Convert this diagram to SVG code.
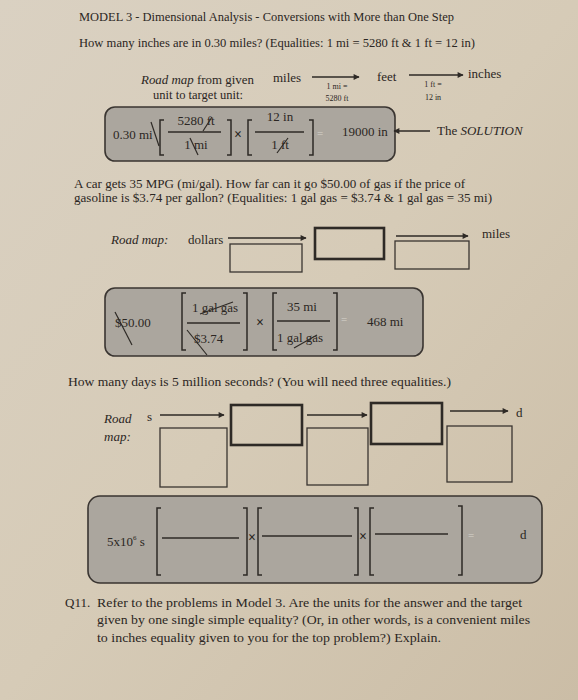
<svg xmlns="http://www.w3.org/2000/svg" width="578" height="700" viewBox="0 0 578 700">
<defs>
<linearGradient id="paper" x1="0" y1="0" x2="1" y2="1">
<stop offset="0" stop-color="#dad1c2"/>
<stop offset="0.5" stop-color="#d6cbb7"/>
<stop offset="1" stop-color="#cbbda6"/>
</linearGradient>
<marker id="ah" viewBox="0 0 10 10" refX="9" refY="5" markerWidth="8" markerHeight="6" markerUnits="userSpaceOnUse" orient="auto">
<path d="M0,0 L10,5 L0,10 z" fill="#2e2a26"/>
</marker>
<style>
text{font-family:"Liberation Serif","Times New Roman",serif;fill:#2b2623;}
.t12{font-size:12px;}
.t13{font-size:13px;}
.sm{font-size:8px;}
.it{font-style:italic;}
.sol{fill:#aba69e;stroke:#3a3531;stroke-width:1.6;}
.br{fill:none;stroke:#2e2a26;stroke-width:1.5;}
.fl{stroke:#2e2a26;stroke-width:1.3;}
.ar{stroke:#2e2a26;stroke-width:1.3;marker-end:url(#ah);}
.thin{fill:none;stroke:#3a3531;stroke-width:1.3;}
.thick{fill:none;stroke:#2e2a26;stroke-width:2.6;}
.sl{stroke:#2e2a26;stroke-width:1.2;}
.eq{fill:#d8d4cc;font-size:11px;}
.x{font-size:14px;font-weight:bold;}
</style>
</defs>
<rect width="578" height="700" fill="url(#paper)"/>

<g id="header">
<text class="t12" x="79" y="21" textLength="375" lengthAdjust="spacingAndGlyphs">MODEL 3 - Dimensional Analysis - Conversions with More than One Step</text>
<text class="t12" x="79" y="47" textLength="396" lengthAdjust="spacingAndGlyphs">How many inches are in 0.30 miles?  (Equalities: 1 mi = 5280 ft &amp; 1 ft = 12 in)</text>
</g>

<g id="roadmap1">
<text class="t13" x="141" y="84" textLength="113" lengthAdjust="spacingAndGlyphs"><tspan class="it">Road map</tspan> from given</text>
<text class="t13" x="153" y="99" textLength="90" lengthAdjust="spacingAndGlyphs">unit to target unit:</text>
<text class="t13" x="273" y="82">miles</text>
<text class="sm" x="337" y="89" text-anchor="middle">1 mi =</text>
<text class="sm" x="337" y="101" text-anchor="middle">5280 ft</text>
<text class="t13" x="377" y="81">feet</text>
<text class="sm" x="433" y="87" text-anchor="middle">1 ft =</text>
<text class="sm" x="433" y="100" text-anchor="middle">12 in</text>
<text class="t13" x="468" y="78">inches</text>
</g>

<g id="solution1">
<rect class="sol" x="105" y="107" width="290" height="54" rx="10"/>
<text class="t13" x="113" y="139">0.30 mi</text>
<line class="sl" x1="151" y1="122" x2="159" y2="146"/>
<path class="br" d="M164,120 H160 V155 H164"/>
<text class="t13" x="196" y="125" text-anchor="middle">5280 ft</text>
<line class="sl" x1="203" y1="131" x2="212" y2="117"/>
<line class="fl" x1="168" y1="132" x2="221" y2="132"/>
<text class="t13" x="196" y="149" text-anchor="middle">1 mi</text>
<line class="sl" x1="190" y1="138" x2="198" y2="155"/>
<path class="br" d="M227,120 H231 V155 H227"/>
<text class="x" x="238" y="139" text-anchor="middle">×</text>
<path class="br" d="M252,120 H248 V155 H252"/>
<text class="t13" x="280" y="121" text-anchor="middle">12 in</text>
<line class="fl" x1="255" y1="132" x2="304" y2="132"/>
<text class="t13" x="280" y="149" text-anchor="middle">1 ft</text>
<line class="sl" x1="277" y1="153" x2="288" y2="138"/>
<path class="br" d="M309,120 H313 V155 H309"/>
<text class="eq" x="320" y="137" text-anchor="middle">=</text>
<text class="t13" x="342" y="136">19000 in</text>
</g>

<g id="solution-label">
<text class="t13" x="437" y="135">The <tspan class="it">SOLUTION</tspan></text>
</g>

<g id="problem2">
<text class="t12" x="74" y="188" textLength="391" lengthAdjust="spacingAndGlyphs">A car gets 35 MPG (mi/gal).  How far can it go $50.00 of gas if the price of</text>
<text class="t12" x="74" y="202" textLength="418" lengthAdjust="spacingAndGlyphs">gasoline is $3.74 per gallon?  (Equalities: 1 gal gas = $3.74 &amp; 1 gal gas = 35 mi)</text>
</g>

<g id="roadmap2">
<text class="t13 it" x="111" y="244">Road map:</text>
<text class="t13" x="188" y="244">dollars</text>
<rect class="thin" x="230" y="244" width="72" height="28"/>
<rect class="thick" x="315" y="228" width="69" height="31"/>
<rect class="thin" x="395" y="241" width="74" height="28"/>
<text class="t13" x="482" y="238">miles</text>
</g>

<g id="solution2">
<rect class="sol" x="105" y="288" width="318" height="68" rx="10"/>
<text class="t13" x="115" y="327">$50.00</text>
<line class="sl" x1="115" y1="312" x2="132" y2="345"/>
<path class="br" d="M186,293 H182 V350 H186"/>
<text class="t13" x="192" y="312" textLength="46" lengthAdjust="spacingAndGlyphs">1 gal gas</text>
<line class="sl" x1="200" y1="314" x2="233" y2="302"/>
<line class="fl" x1="187" y1="323" x2="240" y2="323"/>
<text class="t13" x="194" y="343">$3.74</text>
<line class="sl" x1="187" y1="330" x2="207" y2="355"/>
<path class="br" d="M243,293 H247 V350 H243"/>
<text class="x" x="260" y="327" text-anchor="middle">×</text>
<path class="br" d="M277,293 H273 V350 H277"/>
<text class="t13" x="302" y="311" text-anchor="middle">35 mi</text>
<line class="fl" x1="277" y1="321" x2="330" y2="321"/>
<text class="t13" x="277" y="342" textLength="46" lengthAdjust="spacingAndGlyphs">1 gal gas</text>
<line class="sl" x1="294" y1="348" x2="317" y2="335"/>
<path class="br" d="M333,293 H337 V350 H333"/>
<text class="eq" x="344" y="323" text-anchor="middle">=</text>
<text class="t13" x="367" y="326">468 mi</text>
</g>

<g id="problem3">
<text class="t12" x="68" y="386" textLength="383" lengthAdjust="spacingAndGlyphs">How many days is 5 million seconds?  (You will need three equalities.)</text>
</g>

<g id="roadmap3">
<text class="t13 it" x="104" y="423">Road</text>
<text class="t13 it" x="104" y="441">map:</text>
<text class="t13" x="147" y="421">s</text>
<rect class="thin" x="160" y="428" width="67" height="59"/>
<rect class="thick" x="231" y="405" width="71" height="40"/>
<rect class="thin" x="307" y="428" width="61" height="57"/>
<rect class="thick" x="371" y="403" width="71" height="41"/>
<rect class="thin" x="447" y="426" width="65" height="56"/>
<text class="t13" x="516" y="417">d</text>
</g>

<g id="solution3">
<rect class="sol" x="88" y="496" width="454" height="87" rx="12"/>
<text class="t13" x="107" y="546">5x10<tspan font-size="7" dy="-6">6</tspan><tspan dy="6"> s</tspan></text>
<path class="br" d="M161,508 H157 V575 H161"/>
<line class="fl" x1="162" y1="538" x2="239" y2="538"/>
<path class="br" d="M243,508 H247 V575 H243"/>
<text class="x" x="252" y="542" text-anchor="middle">×</text>
<path class="br" d="M262,508 H258 V575 H262"/>
<line class="fl" x1="262" y1="536" x2="352" y2="536"/>
<path class="br" d="M354,508 H358 V575 H354"/>
<text class="x" x="363" y="541" text-anchor="middle">×</text>
<path class="br" d="M374,508 H370 V575 H374"/>
<line class="fl" x1="375" y1="534" x2="448" y2="534"/>
<path class="br" d="M458,506 H462 V575 H458"/>
<text class="eq" x="471" y="539" text-anchor="middle">=</text>
<text class="t13" x="520" y="539">d</text>
</g>

<g id="q11">
<text class="t13" x="65" y="607">Q11.</text>
<text class="t13" x="97" y="607" textLength="425" lengthAdjust="spacingAndGlyphs">Refer to the problems in Model 3.  Are the units for the answer and the target</text>
<text class="t13" x="97" y="624" textLength="433" lengthAdjust="spacingAndGlyphs">given by one single simple equality? (Or, in other words, is a convenient miles</text>
<text class="t13" x="97" y="642" textLength="344" lengthAdjust="spacingAndGlyphs">to inches equality given to you for the top problem?)  Explain.</text>
</g>

<g id="connectors">
<line class="ar" x1="312" y1="77" x2="359" y2="77"/>
<line class="ar" x1="409" y1="75" x2="463" y2="75"/>
<line class="ar" x1="430" y1="131" x2="394" y2="131"/>
<line class="ar" x1="228" y1="238" x2="306" y2="238"/>
<line class="ar" x1="396" y1="236" x2="468" y2="236"/>
<line class="ar" x1="160" y1="415" x2="224" y2="415"/>
<line class="ar" x1="307" y1="415" x2="367" y2="415"/>
<line class="ar" x1="450" y1="411" x2="508" y2="411"/>
</g>
</svg>
